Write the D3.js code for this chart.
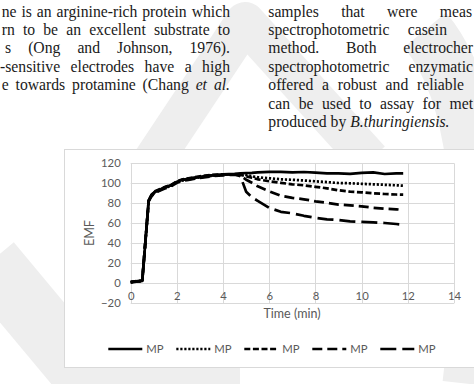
<!DOCTYPE html>
<html><head><meta charset="utf-8">
<script src="https://cdn.jsdelivr.net/npm/d3@7"></script>
<style>
html,body{margin:0;padding:0;background:#fff;overflow:hidden}
svg{display:block}
</style></head>
<body>
<svg id="c" width="474" height="384"></svg>
<script>
// ---------------- data ----------------
const time = [0,0.25,0.5,0.78,0.9,1.05,1.25,1.5,1.75,2,2.25,2.5,3,3.5,4,4.5,4.75,5,5.25,5.5,6,6.5,7,7.5,8,8.5,9,9.5,10,10.5,11,11.5,11.8];
const mp1 = [1.3,2,2.6,83,88,91.5,93.5,96,98,101.5,103.5,104.5,106.5,108,109,109.5,110,110.3,110.5,111,111.5,111.5,111,111.3,110.6,110,110,109.5,110.5,111,109.3,110,110];
const mp2 = [1.0,1.8,2.3,82.5,87.5,91,93,95.5,97.5,101,103,104,106,107.5,108.5,109,109,108.3,107,106,105,104,103.5,102.8,102,101.2,100.3,100,99.5,99,98.5,98,97.6];
const mp3 = [1.5,2.2,2.8,83.5,88.5,92,94,96.5,98.5,102,104,105,107,108.3,109,109,108.5,107,105.5,104,102,100.5,99,98,96.5,95,93,91.6,91,90,89.3,88.8,88.6];
const mp4 = [0.8,1.6,2.2,82,87,90.5,92.5,95,97,100.5,102.5,103.5,105.5,107,108,108.5,108,103.5,100.5,97,92,87.5,85.5,84,82,80.5,78.7,78,77,75.5,74.5,74,73.3];
const mp5 = [1.2,2,2.5,83,88,91.5,93.5,96,98,101.5,103.5,104.5,106.5,107.8,108.6,109,107,91.6,86,82.5,75.5,71.5,70,67.5,65.5,64,63.3,62,61.5,61,60.3,59.3,58.6];
const seriesNames = ["MP","MP","MP","MP","MP"];
const seriesValues = [mp1,mp2,mp3,mp4,mp5];
const xTicks = [0,2,4,6,8,10,12,14];
const yTicks = [-20,0,20,40,60,80,100,120];
const xTitle = "Time (min)";
const yTitle = "EMF";

// body text around the figure
const leftLines = [
  "ne is an arginine-rich protein which",
  "rn to be an excellent substrate to",
  "s (Ong and Johnson, 1976).",
  "-sensitive electrodes have a high",
  "e towards protamine (Chang _et _al."
];
const rightLines = [
  "samples that were meas",
  "spectrophotometric casein",
  "method. Both electrocher",
  "spectrophotometric enzymatic",
  "offered a robust and reliable",
  "can be used to assay for met",
  "produced by _B.thuringiensis."
];

// ---------------- styles ----------------
const dashes = [null, "2.2,1.8", "6,2.6", "10,5", "16,6"];
const svg = d3.select("#c");

// faint watermark
const wm = svg.append("g").attr("fill","none").attr("stroke","#eeeeee").attr("stroke-linecap","butt");
wm.append("path").attr("d","M-10,262 L105,400").attr("stroke-width",62);
wm.append("path").attr("d","M150,165 L245,22 L370,160").attr("stroke-width",40).attr("stroke-linejoin","round");
wm.append("path").attr("d","M110,384 L240,384").attr("stroke-width",34);
wm.append("path").attr("d","M425,30 Q500,120 470,384").attr("stroke-width",55);

// text columns
const serif = "'Liberation Serif','Times New Roman',serif";
function drawLine(str, x0, y, x1, justify){
  const words = str.split(" ");
  const g = svg.append("g");
  const nodes = words.map(w => {
    const it = w.startsWith("_");
    return g.append("text").attr("y", y).attr("font-family", serif).attr("font-size", 15.7)
      .attr("fill","#1a1a1a").attr("font-style", it ? "italic" : "normal").text(it ? w.slice(1) : w);
  });
  const widths = nodes.map(n => n.node().getComputedTextLength());
  const total = d3.sum(widths);
  const gap = (justify && words.length>1) ? (x1 - x0 - total)/(words.length-1) : 3.9;
  let x = x0;
  nodes.forEach((n,i)=>{ n.attr("x", x); x += widths[i] + gap; });
}
const rowY = [16.5,34.8,53.2,71.5,89.8,108.6,126.8];
const leftStart = [1.7,1.7,5,0,1.7];
leftLines.forEach((s,i)=>drawLine(s, leftStart[i], rowY[i], 230, true));
const rightEnd = [472,447,473,473,464,473,null];
rightLines.forEach((s,i)=>drawLine(s, 268.3, rowY[i], rightEnd[i], rightEnd[i]!==null));

// chart box
svg.append("rect").attr("x",64.5).attr("y",149.5).attr("width",430).attr("height",218)
  .attr("fill","#fff").attr("stroke","#d9d9d9");

const x = d3.scaleLinear().domain([0,14]).range([130.7,454]);
const y = d3.scaleLinear().domain([-20,120]).range([303.3,163.3]);
const sans = "Lato,'Liberation Sans',sans-serif";

// gridlines
const grid = svg.append("g").attr("stroke","#d9d9d9").attr("stroke-width",1);
yTicks.forEach(v=>grid.append("line").attr("x1",x(0)).attr("x2",x(14)).attr("y1",Math.round(y(v))+0.5).attr("y2",Math.round(y(v))+0.5));
xTicks.forEach(v=>grid.append("line").attr("y1",y(-20)).attr("y2",y(120)).attr("x1",Math.round(x(v))+0.5).attr("x2",Math.round(x(v))+0.5));

// axes via d3 axis generators (labels only)
const yAx = svg.append("g").attr("transform",`translate(${x(0)-10},0)`)
  .call(d3.axisLeft(y).tickValues(yTicks).tickSize(0).tickPadding(0));
const xAx = svg.append("g").attr("transform",`translate(0,${y(0)+9})`)
  .call(d3.axisBottom(x).tickValues(xTicks).tickSize(0).tickPadding(0));
[yAx,xAx].forEach(a=>{
  a.select(".domain").remove();
  a.selectAll("text").attr("font-family",sans).attr("font-size",11.3).attr("fill","#595959");
});

svg.append("text").attr("x",292).attr("y",318).attr("text-anchor","middle")
  .attr("font-family",sans).attr("font-size",12.5).attr("fill","#595959").text(xTitle);
svg.append("text").attr("transform","translate(94,233) rotate(-90)").attr("text-anchor","middle")
  .attr("font-family",sans).attr("font-size",12.5).attr("fill","#595959").text(yTitle);

// series
const line = d3.line().x((d,i)=>x(time[i])).y(d=>y(d));
const order = [4,3,2,1,0];
order.forEach(k=>{
  svg.append("path").datum(seriesValues[k]).attr("d",line).attr("fill","none")
    .attr("stroke","#000").attr("stroke-width",2.7).attr("stroke-linejoin","round")
    .attr("stroke-dasharray", dashes[k]);
});

// legend
const lg = svg.append("g");
seriesNames.forEach((n,i)=>{
  const lx = 108.3 + i*68;
  lg.append("line").attr("x1",lx).attr("x2",lx+34).attr("y1",349).attr("y2",349)
    .attr("stroke","#000").attr("stroke-width",2.7).attr("stroke-dasharray",dashes[i]);
  lg.append("text").attr("x",lx+38).attr("y",353).attr("font-family",sans).attr("font-size",11.3)
    .attr("fill","#595959").text(n);
});
</script>
</body></html>
